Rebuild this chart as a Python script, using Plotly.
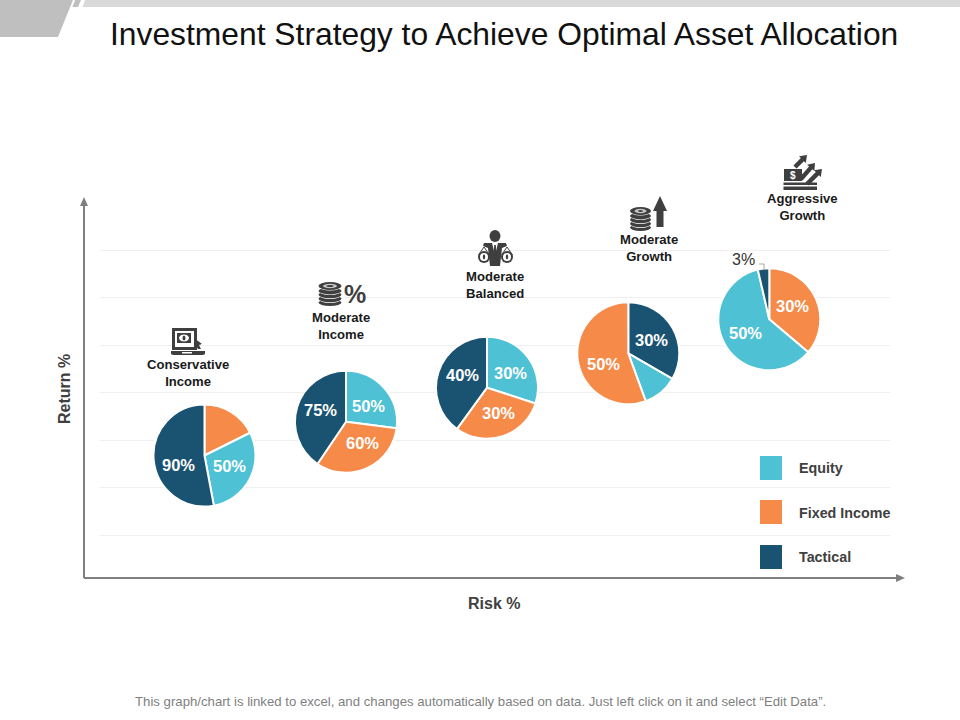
import math
import plotly.graph_objects as go

W = 960
H = 720

# data
categories = ["Equity", "Fixed Income", "Tactical"]
strategies = ["Conservative<br>Income", "Moderate<br>Income", "Moderate<br>Balanced", "Moderate<br>Growth", "Aggressive<br>Growth"]
pie_labels = [
    ["Fixed Income", "Equity", "Tactical"],
    ["Equity", "Fixed Income", "Tactical"],
    ["Equity", "Fixed Income", "Tactical"],
    ["Tactical", "Equity", "Fixed Income"],
    ["Fixed Income", "Equity", "Tactical"],
]
pie_values = [
    [30, 50, 90],
    [50, 60, 75],
    [30, 30, 40],
    [30, 10, 50],
    [30, 50, 3],
]
risk_px = [204.5, 346, 487, 628.3, 769.3]
return_px = [455.5, 421.7, 387.7, 353.3, 319.3]
grid_px = [250, 297, 345, 392, 440, 487, 535]

# value labels, placed by hand like in the slide
value_text = ["90%", "50%", "75%", "50%", "60%", "40%", "30%", "30%", "30%", "50%", "30%", "50%"]
value_x = [178, 229, 320, 368, 362, 462, 510, 498, 651, 603, 792, 745]
value_y = [465, 466, 410, 406, 443, 375, 373, 413, 340, 364, 306, 333]

strategy_x = [188, 341, 495, 649, 802.5]
strategy_y = [372.5, 325.5, 284.5, 247.5, 207.5]

TEAL = "#4EC1D4"
ORANGE = "#F68A48"
NAVY = "#1A5371"
ICON = "#3F3F3F"
colors = {"Equity": TEAL, "Fixed Income": ORANGE, "Tactical": NAVY}
FONT = "Liberation Sans"
R = 51

shapes = []


def px(x):
    return x / W


def py(y):
    return 1 - y / H


def rect(x0, y0, x1, y1, color):
    shapes.append(dict(type="rect", xref="paper", yref="paper", x0=px(x0), x1=px(x1), y0=py(y0), y1=py(y1),
                       fillcolor=color, line_width=0))


def oval(cx, cy, rx, ry, color):
    shapes.append(dict(type="circle", xref="paper", yref="paper", x0=px(cx - rx), x1=px(cx + rx), y0=py(cy - ry), y1=py(cy + ry),
                       fillcolor=color, line_width=0))


def poly(points, color):
    path = "M " + " L ".join(f"{px(x):.5f},{py(y):.5f}" for x, y in points) + " Z"
    shapes.append(dict(type="path", xref="paper", yref="paper", path=path, fillcolor=color, line_width=0))


def line(x0, y0, x1, y1, color, width):
    shapes.append(dict(type="line", xref="paper", yref="paper", x0=px(x0), x1=px(x1), y0=py(y0), y1=py(y1),
                       line=dict(color=color, width=width)))


def coins(cx, top, rx, n):
    for i in range(n - 1, 0, -1):
        y = top + 5 + i * 3.9
        oval(cx, y, rx + 0.3, 4.2, "white")
        oval(cx, y, rx, 3.5, ICON)
    oval(cx, top + 4, rx + 0.3, 4.5, "white")
    oval(cx, top + 4, rx, 4, ICON)
    oval(cx, top + 4, rx - 4.5, 2.2, "#C8C8C8")
    oval(cx, top + 4, rx - 8, 1.1, ICON)


def diag_arrow(x0, y0, x1, y1):
    a = math.atan2(y1 - y0, x1 - x0)
    nx, ny = -math.sin(a), math.cos(a)
    bx, by = x1 - 6.5 * math.cos(a), y1 - 6.5 * math.sin(a)
    poly([(x0 + nx * 2.2, y0 + ny * 2.2), (bx + nx * 2.2, by + ny * 2.2), (bx + nx * 4.8, by + ny * 4.8), (x1, y1),
          (bx - nx * 4.8, by - ny * 4.8), (bx - nx * 2.2, by - ny * 2.2), (x0 - nx * 2.2, y0 - ny * 2.2)], ICON)


# header
poly([(0, 0), (73, 0), (58, 37), (0, 37)], "#BFBFBF")
poly([(75, 0), (81, 0), (78, 7), (72.5, 7)], "#BFBFBF")
poly([(85, 0), (960, 0), (960, 7), (82.5, 7)], "#D9D9D9")

# axes arrows
line(84, 578, 84, 204, "#7F7F7F", 2)
line(84, 578, 898, 578, "#7F7F7F", 2)
poly([(80, 206), (84, 197), (88, 206)], "#7F7F7F")
poly([(896, 574), (905, 578), (896, 582)], "#7F7F7F")

# legend swatches
rect(760, 456, 782, 480, TEAL)
rect(760, 500, 782, 524, ORANGE)
rect(760, 545, 782, 569, NAVY)

# laptop icon
rect(172, 328, 197, 350, ICON)
rect(175, 331, 194, 347, "white")
rect(177, 333, 191, 343, ICON)
oval(184, 338, 5, 3.5, "white")
oval(184, 338, 1.5, 2.5, ICON)
poly([(194, 338), (202, 344), (199, 345), (201, 349), (198, 349), (196, 346), (194, 347)], ICON)
poly([(171, 351), (205, 351), (205, 354), (203, 355), (173, 355), (171, 354)], ICON)
rect(182, 352, 192, 353.5, "white")

# coins and percent
coins(330, 282, 11.5, 5)

# businessman with scales
oval(495, 236, 5.5, 6, ICON)
poly([(484, 243), (506, 243), (507, 246), (502, 248), (500, 266), (490, 266), (488, 248), (483, 246)], ICON)
poly([(492, 243), (498, 243), (495, 255)], "white")
poly([(494.2, 245), (495.8, 245), (496.4, 256), (495, 259), (493.6, 256)], ICON)
for cx in [484, 507]:
    line(cx, 247, cx - 5.5, 255, ICON, 1)
    line(cx, 247, cx + 5.5, 255, ICON, 1)
    oval(cx, 257, 6, 6, ICON)
    oval(cx, 257, 4, 4, "white")
    oval(cx, 257, 1.2, 2.4, ICON)

# coins and arrow
coins(640.5, 207, 10.5, 5)
poly([(656.5, 227), (656.5, 211), (653, 211), (660, 196), (667, 211), (663.5, 211), (663.5, 227)], ICON)

# money and arrows
rect(784, 169, 802, 181, ICON)
rect(783.5, 182.5, 817, 185, ICON)
rect(783.5, 186.5, 817, 190, ICON)
diag_arrow(795, 167, 807, 155)
diag_arrow(801, 179, 815, 163)
diag_arrow(807, 184, 822, 169)

# leader of the 3% label
line(759, 264, 764, 264, "#A6A6A6", 1)
line(764, 264, 764, 270, "#A6A6A6", 1)


def note(text, x, y, size, color, bold=True, **kw):
    if bold:
        text = f"<b>{text}</b>"
    return dict(text=text, xref="paper", yref="paper", x=px(x), y=py(y), xanchor=kw.pop("xanchor", "center"), yanchor="middle",
                showarrow=False, font=dict(family=FONT, size=size, color=color), **kw)


annotations = [
    note("Investment Strategy to Achieve Optimal Asset Allocation", 504, 34, 31.8, "#111111", bold=False),
    note("Return %", 64, 389, 16, "#404040", textangle=-90),
    note("Risk %", 494, 603, 16, "#404040"),
    note("%", 354.5, 294, 25, ICON),
    note("$", 793, 175, 10, "white"),
    note("3%", 743, 259, 16, "#333333", bold=False),
    note("This graph/chart is linked to excel, and changes automatically based on data. Just left click on it and select “Edit Data”.",
         480, 701, 13.2, "#7F7F7F", bold=False),
]
for name, y in zip(categories, [468, 513, 557]):
    annotations.append(note(name, 797, y, 14.3, "#404040", xanchor="left"))
for name, x, y in zip(strategies, strategy_x, strategy_y):
    annotations.append(note(name, x, y, 13.1, "#1A1A1A"))
for t, x, y in zip(value_text, value_x, value_y):
    annotations.append(note(t, x, y, 16.5, "white"))

fig = go.Figure()
# empty-looking cartesian trace, it makes the grid lines appear
fig.add_trace(go.Scatter(x=risk_px, y=return_px, mode="markers", marker=dict(size=1, opacity=0), hoverinfo="skip", showlegend=False))
for labels, values, cx, cy in zip(pie_labels, pie_values, risk_px, return_px):
    fig.add_trace(go.Pie(
        labels=labels, values=values, sort=False, direction="clockwise", rotation=0,
        textinfo="none", showlegend=False,
        marker=dict(colors=[colors[c] for c in labels], line=dict(color="white", width=2)),
        domain=dict(x=[px(cx - R), px(cx + R)], y=[py(cy + R), py(cy - R)]),
    ))

fig.update_layout(
    width=W, height=H, margin=dict(l=0, r=0, t=0, b=0),
    paper_bgcolor="white", plot_bgcolor="white", showlegend=False,
    shapes=shapes, annotations=annotations,
    xaxis=dict(domain=[px(100), px(890)], range=[100, 890], visible=False),
    yaxis=dict(domain=[0, 1], range=[H, 0], tickvals=grid_px, showgrid=True, gridcolor="#EFEFEF", gridwidth=1,
               zeroline=False, showline=False, showticklabels=False, ticks=""),
)

fig.write_html("out.html", config=dict(displayModeBar=False), post_script="document.body.style.margin='0';")
